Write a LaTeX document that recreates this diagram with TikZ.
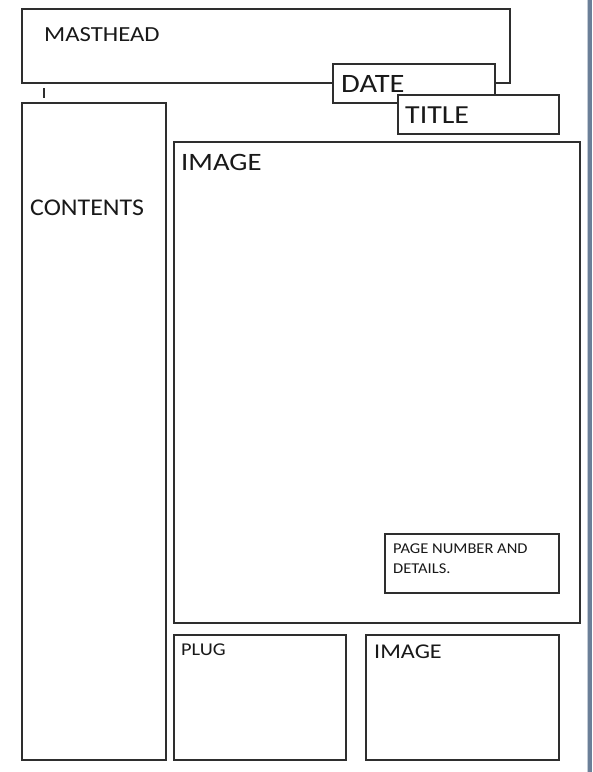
\documentclass[tikz,border=0pt]{standalone}
\usepackage{fontspec}
\setmainfont{Carlito}
\usetikzlibrary{positioning,calc}
\definecolor{edgegray}{HTML}{2E2E2E}
\definecolor{barblue}{HTML}{6B7F98}
\newcommand{\widetext}[2][1.15]{\scalebox{#1}[1]{#2}}
\tikzset{box/.style={draw=edgegray, line width=1.7pt, fill=white, rectangle, inner sep=0pt},
lbl/.style={anchor=base west, inner sep=0pt, text=black!90}}

\begin{document}
\begin{tikzpicture}[x=1pt,y=-1pt]
        \useasboundingbox (0,0) rectangle (593,772);
        \fill[barblue] (588,0) rectangle (592,772);
        \fill[barblue!40] (587,0) rectangle (588,772);

        \node[box, anchor=north west, minimum width=488pt, minimum height=74pt] (masthead) at (21,8) {};
        \node[box, anchor=north west, minimum width=162pt, minimum height=39pt] (date) at (332,63) {};
        \node[box, anchor=north west, minimum width=161pt, minimum height=39pt] (title) at (397,94) {};
        \node[box, anchor=north west, minimum width=144pt, minimum height=657pt] (contents) at (21,102) {};
        \node[box, anchor=north west, minimum width=406pt, minimum height=481pt] (image) at (173,141) {};
        \node[box, anchor=north west, minimum width=174pt, minimum height=59pt] (pagenum) at (384,533) {};
        \node[box, anchor=north west, minimum width=172pt, minimum height=125pt] (plug) at (173,634) {};
        \node[box, anchor=north west, minimum width=193pt, minimum height=125pt] (smallimage) at (365,634) {};

        \draw[line width=2.2pt, edgegray] (44,88) -- (44,98);

        \node[lbl, font=\fontsize{21.5}{24}\selectfont] (mastheadtext) at ($(masthead.north west)+(23,33)$) {\widetext{MASTHEAD}};
        \node[lbl, font=\fontsize{26.5}{30}\selectfont] (datetext) at ($(date.north west)+(9,29)$) {\widetext{DATE}};
        \node[lbl, font=\fontsize{26}{30}\selectfont] (titletext) at ($(title.north west)+(8,29)$) {\widetext{TITLE}};
        \node[lbl, font=\fontsize{24}{28}\selectfont] (contentstext) at ($(contents.north west)+(9,113)$) {\widetext[1.08]{CONTENTS}};
        \node[lbl, font=\fontsize{25}{28}\selectfont] (imagetext) at ($(image.north west)+(8,29)$) {\widetext{IMAGE}};
        \node[lbl, font=\fontsize{15}{20}\selectfont] (pagenumtext) at ($(pagenum.north west)+(9,20)$) {\widetext[1.1]{PAGE NUMBER AND}};
        \node[lbl, font=\fontsize{15}{20}\selectfont, below=0pt of pagenumtext.base west, anchor=base west, yshift=-20pt] (pagenumtext2) {\widetext[1.1]{DETAILS.}};
        \node[lbl, font=\fontsize{18}{20}\selectfont] (plugtext) at ($(plug.north west)+(8,21)$) {\widetext[1.13]{PLUG}};
        \node[lbl, font=\fontsize{21}{24}\selectfont] (smallimagetext) at ($(smallimage.north west)+(9,24)$) {\widetext{IMAGE}};
    \end{tikzpicture}
\end{document}
